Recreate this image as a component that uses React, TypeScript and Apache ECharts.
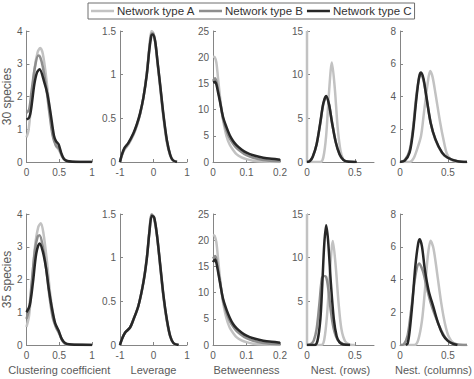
import React, { useEffect, useRef } from "react";
import * as echarts from "echarts";

// ---------- Data ----------
const seriesNames = ["Network type A", "Network type B", "Network type C"];
const rowNames = ["30 species", "35 species"];
const panelNames = ["Clustering coefficient", "Leverage", "Betweenness", "Nest. (rows)", "Nest. (columns)"];

const xRanges = [[0, 1], [-1, 1], [0, 0.2], [0, 0.7], [0, 0.7]];
const yRanges = [[0, 4], [0, 1.5], [0, 25], [0, 15], [0, 8]];
const xTicks = [[0, 0.5, 1], [-1, 0, 1], [0, 0.1, 0.2], [0, 0.5], [0, 0.5]];
const yTicks = [[0, 1, 2, 3, 4], [0, 0.5, 1, 1.5], [0, 5, 10, 15, 20, 25], [0, 5, 10, 15], [0, 2, 4, 6, 8]];

// Clustering coefficient
const clustA30 = [[0, 0.75], [0.03, 0.95], [0.07, 1.7], [0.12, 2.8], [0.17, 3.35], [0.21, 3.48], [0.25, 3.3], [0.3, 2.6], [0.35, 1.7], [0.4, 0.9], [0.45, 0.5], [0.5, 0.35], [0.55, 0.15], [0.6, 0.04], [0.7, 0.01], [0.8, 0], [1, 0]];
const clustB30 = [[0, 1.5], [0.04, 1.6], [0.08, 2.2], [0.13, 2.9], [0.18, 3.25], [0.21, 3.2], [0.25, 2.9], [0.3, 2.3], [0.35, 1.5], [0.4, 0.8], [0.45, 0.5], [0.5, 0.4], [0.55, 0.15], [0.6, 0.04], [0.7, 0.01], [1, 0]];
const clustC30 = [[0, 1.3], [0.04, 1.35], [0.07, 1.6], [0.12, 2.37], [0.16, 2.73], [0.2, 2.83], [0.27, 2.45], [0.32, 2.07], [0.37, 1.46], [0.42, 0.8], [0.45, 0.64], [0.49, 0.54], [0.53, 0.28], [0.57, 0.1], [0.62, 0.03], [0.7, 0.01], [1, 0]];
const clustA35 = [[0, 0.55], [0.04, 0.9], [0.08, 1.8], [0.13, 3.0], [0.18, 3.6], [0.22, 3.72], [0.26, 3.4], [0.31, 2.6], [0.36, 1.6], [0.41, 0.9], [0.45, 0.55], [0.5, 0.35], [0.55, 0.13], [0.6, 0.03], [0.7, 0.01], [1, 0]];
const clustB35 = [[0, 0.8], [0.04, 1.1], [0.08, 1.9], [0.13, 2.9], [0.17, 3.3], [0.2, 3.35], [0.25, 3.0], [0.3, 2.35], [0.35, 1.5], [0.4, 0.85], [0.45, 0.55], [0.5, 0.35], [0.55, 0.13], [0.6, 0.03], [1, 0]];
const clustC35 = [[0, 1.0], [0.05, 1.21], [0.1, 1.93], [0.15, 2.8], [0.2, 3.1], [0.25, 2.85], [0.3, 2.33], [0.34, 1.72], [0.39, 1.11], [0.44, 0.65], [0.49, 0.44], [0.54, 0.18], [0.59, 0.06], [0.65, 0.02], [0.75, 0.01], [1, 0]];

// Leverage
const levA30 = [[-1, 0], [-0.95, 0.07], [-0.87, 0.14], [-0.75, 0.2], [-0.6, 0.31], [-0.5, 0.41], [-0.4, 0.55], [-0.3, 0.74], [-0.2, 1.02], [-0.12, 1.33], [-0.06, 1.5], [-0.01, 1.48], [0.05, 1.38], [0.12, 1.13], [0.2, 0.85], [0.3, 0.5], [0.4, 0.22], [0.5, 0.07], [0.58, 0.02], [0.7, 0]];
const levB30 = [[-1, 0], [-0.95, 0.07], [-0.87, 0.15], [-0.75, 0.21], [-0.6, 0.32], [-0.5, 0.42], [-0.4, 0.55], [-0.3, 0.74], [-0.2, 1.01], [-0.12, 1.31], [-0.06, 1.47], [-0.01, 1.47], [0.05, 1.38], [0.12, 1.14], [0.2, 0.87], [0.3, 0.52], [0.4, 0.24], [0.5, 0.08], [0.58, 0.02], [0.7, 0]];
const levC30 = [[-1, 0], [-0.95, 0.08], [-0.87, 0.16], [-0.75, 0.22], [-0.6, 0.33], [-0.5, 0.43], [-0.4, 0.56], [-0.3, 0.74], [-0.2, 1.0], [-0.12, 1.3], [-0.06, 1.45], [-0.02, 1.46], [0.05, 1.38], [0.12, 1.15], [0.2, 0.88], [0.3, 0.53], [0.4, 0.25], [0.5, 0.08], [0.58, 0.02], [0.7, 0]];
const levA35 = [[-1, 0], [-0.95, 0.06], [-0.85, 0.14], [-0.7, 0.2], [-0.6, 0.29], [-0.45, 0.45], [-0.3, 0.73], [-0.2, 1.0], [-0.12, 1.32], [-0.06, 1.5], [0.0, 1.47], [0.1, 1.26], [0.2, 0.9], [0.3, 0.54], [0.4, 0.27], [0.5, 0.09], [0.6, 0.02], [0.75, 0]];
const levB35 = [[-1, 0], [-0.95, 0.06], [-0.85, 0.14], [-0.7, 0.2], [-0.6, 0.29], [-0.45, 0.45], [-0.3, 0.72], [-0.2, 0.99], [-0.12, 1.3], [-0.06, 1.49], [0.01, 1.47], [0.1, 1.27], [0.2, 0.91], [0.3, 0.55], [0.4, 0.28], [0.5, 0.1], [0.6, 0.02], [0.75, 0]];
const levC35 = [[-1, 0], [-0.95, 0.06], [-0.85, 0.14], [-0.7, 0.2], [-0.6, 0.29], [-0.45, 0.45], [-0.3, 0.72], [-0.2, 0.99], [-0.12, 1.3], [-0.05, 1.48], [0.02, 1.46], [0.1, 1.27], [0.2, 0.92], [0.3, 0.56], [0.4, 0.29], [0.5, 0.1], [0.6, 0.02], [0.75, 0]];

// Betweenness
const betA30 = [[0, 20.1], [0.005, 20], [0.01, 19], [0.015, 16], [0.02, 13], [0.025, 10.2], [0.03, 8], [0.04, 5], [0.05, 3.3], [0.06, 2.3], [0.07, 1.5], [0.085, 0.9], [0.1, 0.55], [0.12, 0.25], [0.15, 0.1], [0.2, 0.02]];
const betB30 = [[0, 15.5], [0.006, 16], [0.01, 15.4], [0.015, 13.8], [0.02, 12], [0.03, 8.3], [0.04, 6], [0.05, 4.5], [0.06, 3.5], [0.07, 2.7], [0.085, 1.9], [0.1, 1.3], [0.12, 0.8], [0.15, 0.4], [0.2, 0.12]];
const betC30 = [[0, 15.2], [0.006, 15.3], [0.01, 14.8], [0.015, 13.3], [0.02, 11.8], [0.03, 8.6], [0.04, 6.7], [0.05, 5.1], [0.06, 4.0], [0.07, 3.2], [0.085, 2.4], [0.1, 1.8], [0.12, 1.3], [0.15, 0.83], [0.175, 0.6], [0.2, 0.45]];
const betA35 = [[0, 21.0], [0.005, 20.8], [0.01, 19.6], [0.015, 16.5], [0.02, 13.3], [0.025, 10.4], [0.03, 8.1], [0.04, 5.1], [0.05, 3.3], [0.06, 2.3], [0.07, 1.5], [0.085, 0.9], [0.1, 0.55], [0.12, 0.25], [0.15, 0.1], [0.2, 0.02]];
const betB35 = [[0, 16.5], [0.006, 17], [0.01, 16.4], [0.015, 14.5], [0.02, 12.5], [0.03, 8.6], [0.04, 6.2], [0.05, 4.6], [0.06, 3.5], [0.07, 2.7], [0.085, 1.9], [0.1, 1.3], [0.12, 0.8], [0.15, 0.4], [0.2, 0.12]];
const betC35 = [[0, 15.8], [0.006, 16.3], [0.01, 15.7], [0.015, 14], [0.02, 12.2], [0.03, 8.8], [0.04, 6.8], [0.05, 5.2], [0.06, 4.0], [0.07, 3.2], [0.085, 2.4], [0.1, 1.8], [0.12, 1.3], [0.15, 0.83], [0.175, 0.6], [0.2, 0.45]];

// Nestedness (rows)
const rowA30 = [[0, 15], [0, 0], [0.14, 0], [0.17, 0.5], [0.2, 3], [0.23, 8], [0.26, 11.4], [0.29, 8.5], [0.32, 4], [0.35, 1.3], [0.38, 0.3], [0.42, 0.05], [0.5, 0]];
const rowB30 = [[0, 0], [0.03, 0.1], [0.06, 0.6], [0.1, 2.0], [0.14, 4.5], [0.17, 6.6], [0.2, 7.4], [0.23, 6.6], [0.26, 4.6], [0.3, 2.3], [0.34, 0.9], [0.38, 0.25], [0.42, 0.05], [0.5, 0]];
const rowC30 = [[0, 0], [0.03, 0.1], [0.06, 0.6], [0.1, 2.0], [0.14, 4.6], [0.17, 6.7], [0.2, 7.55], [0.23, 6.6], [0.26, 4.6], [0.3, 2.3], [0.34, 0.9], [0.38, 0.25], [0.42, 0.05], [0.52, 0]];
const rowA35 = [[0, 15], [0, 0], [0.15, 0], [0.18, 0.6], [0.21, 3.5], [0.24, 8.5], [0.27, 11.9], [0.3, 9], [0.33, 4.8], [0.36, 1.8], [0.4, 0.4], [0.45, 0.05], [0.5, 0]];
const rowB35 = [[0, 0], [0.04, 0.1], [0.07, 0.5], [0.1, 1.8], [0.13, 4.8], [0.155, 7.6], [0.175, 7.9], [0.2, 7.8], [0.225, 6.2], [0.25, 3.8], [0.28, 1.8], [0.32, 0.6], [0.38, 0.1], [0.45, 0]];
const rowC35 = [[0, 0], [0.08, 0], [0.11, 0.5], [0.14, 3], [0.16, 7], [0.18, 11.5], [0.2, 13.7], [0.22, 12], [0.25, 7], [0.28, 3], [0.31, 1], [0.34, 0.3], [0.38, 0.05], [0.45, 0]];

// Nestedness (columns)
const colA30 = [[0, 0], [0.1, 0], [0.14, 0.2], [0.18, 0.8], [0.22, 1.6], [0.25, 3.0], [0.29, 4.85], [0.315, 5.56], [0.34, 5.2], [0.37, 4.2], [0.42, 2.4], [0.46, 1.2], [0.49, 0.5], [0.53, 0.15], [0.6, 0.02], [0.7, 0]];
const colB30 = [[0, 0], [0.05, 0.12], [0.1, 0.7], [0.135, 2.0], [0.17, 4.0], [0.2, 5.15], [0.22, 5.3], [0.245, 5.0], [0.27, 4.2], [0.32, 2.4], [0.37, 1.35], [0.44, 0.55], [0.5, 0.25], [0.6, 0.05], [0.7, 0]];
const colC30 = [[0, 0], [0.05, 0.08], [0.1, 0.57], [0.135, 1.8], [0.17, 3.8], [0.2, 5.2], [0.22, 5.46], [0.245, 5.1], [0.27, 4.2], [0.32, 2.4], [0.37, 1.4], [0.44, 0.57], [0.5, 0.26], [0.6, 0.05], [0.7, 0]];
const colA35 = [[0, 0], [0.15, 0], [0.19, 0.3], [0.23, 1.5], [0.26, 3.3], [0.29, 5.4], [0.32, 6.36], [0.35, 5.9], [0.39, 4.3], [0.43, 2.6], [0.47, 1.3], [0.51, 0.5], [0.56, 0.12], [0.62, 0.02], [0.7, 0]];
const colB35 = [[0, 0], [0.04, 0.05], [0.08, 0.6], [0.12, 2.3], [0.16, 4.2], [0.2, 4.98], [0.24, 4.5], [0.28, 3.5], [0.33, 2.4], [0.38, 1.6], [0.43, 0.9], [0.48, 0.4], [0.53, 0.15], [0.6, 0.03], [0.7, 0]];
const colC35 = [[0.06, 0], [0.08, 0.1], [0.1, 0.8], [0.13, 2.6], [0.16, 4.8], [0.19, 6.2], [0.207, 6.46], [0.23, 6.0], [0.26, 4.6], [0.3, 3.3], [0.35, 2.3], [0.4, 1.3], [0.45, 0.6], [0.5, 0.25], [0.55, 0.08], [0.6, 0]];

const panelData = [
  [
    [clustA30, clustB30, clustC30],
    [levA30, levB30, levC30],
    [betA30, betB30, betC30],
    [rowA30, rowB30, rowC30],
    [colA30, colB30, colC30],
  ],
  [
    [clustA35, clustB35, clustC35],
    [levA35, levB35, levC35],
    [betA35, betB35, betC35],
    [rowA35, rowB35, rowC35],
    [colA35, colB35, colC35],
  ],
];

// ---------- Styling / layout ----------
const FONT = "'Liberation Sans', Arial, sans-serif";
const colors = ["#c2c2c2", "#8e8e8e", "#272727"];
const gridLefts = [25, 120, 213, 307, 400];
const gridTops = [31, 214];
const GRID_W = 67;
const GRID_H = 131;
const AXIS_COLOR = "#858585";
const LABEL_COLOR = "#5a5a5a";

export default function App() {
  const ref = useRef<HTMLDivElement>(null);

  useEffect(() => {
    if (!ref.current) return;
    const chart = echarts.init(ref.current, undefined, { renderer: "svg" });

    const grid: any[] = [];
    const xAxis: any[] = [];
    const yAxis: any[] = [];
    const series: any[] = [];

    for (let r = 0; r < 2; r++) {
      for (let c = 0; c < 5; c++) {
        const idx = r * 5 + c;
        grid.push({ left: gridLefts[c], top: gridTops[r], width: GRID_W, height: GRID_H, containLabel: false });
        xAxis.push({
          type: "value",
          gridIndex: idx,
          min: xRanges[c][0],
          max: xRanges[c][1],
          name: r === 1 ? panelNames[c] : "",
          nameLocation: "middle",
          nameGap: 19,
          nameTextStyle: { color: LABEL_COLOR, fontSize: 11, fontFamily: FONT },
          axisLine: { show: true, onZero: false, lineStyle: { color: AXIS_COLOR, width: 1 } },
          axisTick: { show: true, inside: true, length: 3, customValues: xTicks[c], lineStyle: { color: AXIS_COLOR } },
          axisLabel: { show: true, customValues: xTicks[c], color: LABEL_COLOR, fontSize: 10, fontFamily: FONT, margin: 5 },
          splitLine: { show: false },
        });
        yAxis.push({
          type: "value",
          gridIndex: idx,
          min: yRanges[c][0],
          max: yRanges[c][1],
          name: c === 0 ? rowNames[r] : "",
          nameLocation: "middle",
          nameRotate: 90,
          nameGap: 12,
          nameTextStyle: { color: LABEL_COLOR, fontSize: 12, fontFamily: FONT },
          axisLine: { show: true, onZero: false, lineStyle: { color: AXIS_COLOR, width: 1 } },
          axisTick: { show: true, inside: true, length: 3, customValues: yTicks[c], lineStyle: { color: AXIS_COLOR } },
          axisLabel: { show: true, customValues: yTicks[c], color: LABEL_COLOR, fontSize: 10, fontFamily: FONT, margin: 4 },
          splitLine: { show: false },
        });
        for (let s = 0; s < 3; s++) {
          series.push({
            type: "line",
            name: seriesNames[s],
            xAxisIndex: idx,
            yAxisIndex: idx,
            data: panelData[r][c][s],
            smooth: 0.3,
            symbol: "none",
            showSymbol: false,
            clip: true,
            z: 2 + s,
            lineStyle: { color: colors[s], width: 2.5 },
            itemStyle: { color: colors[s] },
          });
        }
      }
    }

    chart.setOption({
      animation: false,
      backgroundColor: "#ffffff",
      textStyle: { fontFamily: FONT },
      legend: {
        data: seriesNames,
        left: 88,
        top: 3,
        orient: "horizontal",
        icon: "rect",
        itemWidth: 23,
        itemHeight: 2.5,
        itemGap: 4,
        padding: [2, 3, 2, 3],
        borderColor: "#6e6e6e",
        borderWidth: 1,
        textStyle: { color: "#333333", fontSize: 11.5, fontFamily: FONT, padding: [0, 0, 0, -2] },
        selectedMode: false,
      },
      grid,
      xAxis,
      yAxis,
      series,
    });

    return () => chart.dispose();
  }, []);

  return (
    <div
      ref={ref}
      style={{ position: "fixed", left: 0, top: 0, width: 474, height: 379, background: "#fff" }}
    />
  );
}
